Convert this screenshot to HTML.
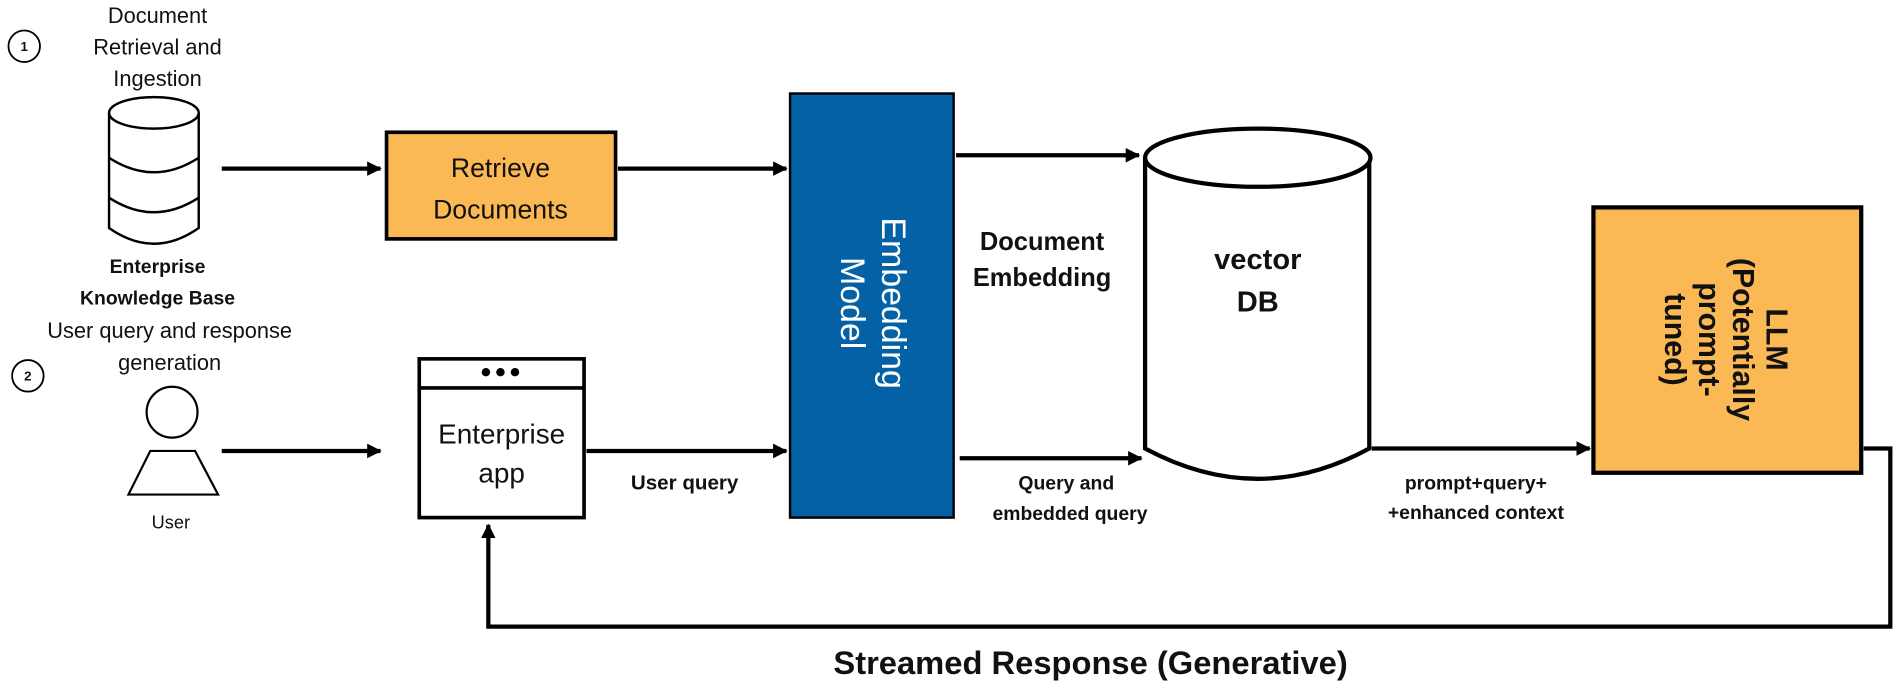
<!DOCTYPE html>
<html><head><meta charset="utf-8"><style>
html,body{margin:0;padding:0;background:#fff;}
svg{display:block;}
text{font-family:"Liberation Sans",sans-serif;fill:#111;}
.b{font-weight:bold;}
</style></head><body>
<svg width="1900" height="685" viewBox="0 0 1568 565" xmlns="http://www.w3.org/2000/svg">
<defs>
<marker id="ah" markerWidth="14" markerHeight="14" refX="11" refY="7" orient="auto" markerUnits="userSpaceOnUse">
<path d="M0,1 L12,7 L0,13 z" fill="#000"/>
</marker>
</defs>
<g fill="none" stroke="#000" stroke-width="1.5">
<circle cx="20" cy="38" r="13"/>
<circle cx="23" cy="310" r="13"/>
</g>
<text x="20" y="42" font-size="11" text-anchor="middle" class="b">1</text>
<text x="23" y="314" font-size="11" text-anchor="middle" class="b">2</text>
<g font-size="18" text-anchor="middle">
<text x="130" y="19">Document</text>
<text x="130" y="45">Retrieval and</text>
<text x="130" y="71">Ingestion</text>
<text x="140" y="279">User query and response</text>
<text x="140" y="305">generation</text>
</g>
<g font-size="16" text-anchor="middle" class="b">
<text x="130" y="225">Enterprise</text>
<text x="130" y="251">Knowledge Base</text>
</g>
<text x="141" y="436" font-size="15" text-anchor="middle">User</text>
<!-- KB cylinder -->
<g fill="none" stroke="#000" stroke-width="2">
<ellipse cx="127" cy="93" rx="37" ry="13"/>
<path d="M90,93 V188 Q127,214 164,188 V93"/>
<path d="M90,130 Q127,154 164,130"/>
<path d="M90,163 Q127,187 164,163"/>
</g>
<!-- user -->
<g fill="none" stroke="#000" stroke-width="1.8">
<circle cx="142" cy="340" r="21"/>
<path d="M124,372 H161 L180,408 H106 Z"/>
</g>
<!-- arrows -->
<g stroke="#000" stroke-width="3.5" fill="none" marker-end="url(#ah)">
<line x1="183" y1="139" x2="314" y2="139"/>
<line x1="510" y1="139" x2="649" y2="139"/>
<line x1="183" y1="372" x2="314" y2="372"/>
<line x1="484" y1="372" x2="649" y2="372"/>
<line x1="789" y1="128" x2="940" y2="128"/>
<line x1="792" y1="378" x2="942" y2="378"/>
<line x1="1132" y1="370" x2="1312" y2="370"/>
<polyline points="1538,370 1560,370 1560,517 403,517 403,433"/>
</g>
<!-- retrieve docs -->
<rect x="319" y="109" width="189" height="88" fill="#fbb955" stroke="#000" stroke-width="3"/>
<text x="413" y="146" font-size="22" text-anchor="middle">Retrieve</text>
<text x="413" y="180" font-size="22" text-anchor="middle">Documents</text>
<!-- enterprise app -->
<rect x="346" y="296" width="136" height="131" fill="#fff" stroke="#000" stroke-width="3"/>
<line x1="346" y1="320" x2="482" y2="320" stroke="#000" stroke-width="3"/>
<circle cx="401" cy="307" r="3.5"/><circle cx="413" cy="307" r="3.5"/><circle cx="425" cy="307" r="3.5"/>
<text x="414" y="366" font-size="23" text-anchor="middle">Enterprise</text>
<text x="414" y="398" font-size="23" text-anchor="middle">app</text>
<text x="565" y="404" font-size="17" text-anchor="middle" class="b">User query</text>
<!-- embedding model -->
<rect x="652" y="77" width="135" height="350" fill="#0561a5" stroke="#000" stroke-width="2"/>
<g transform="translate(720,250) rotate(90)">
<text x="0" y="-8" font-size="28" text-anchor="middle" style="fill:#fff">Embedding</text>
<text x="0" y="26" font-size="28" text-anchor="middle" style="fill:#fff">Model</text>
</g>
<g font-size="21" text-anchor="middle" class="b">
<text x="860" y="206">Document</text>
<text x="860" y="236">Embedding</text>
</g>
<g font-size="16" text-anchor="middle" class="b">
<text x="880" y="404">Query and</text>
<text x="883" y="429">embedded query</text>
<text x="1218" y="404">prompt+query+</text>
<text x="1218" y="428">+enhanced context</text>
</g>
<!-- vector DB -->
<g fill="#fff" stroke="#000" stroke-width="3.5">
<path d="M945,130 V370 Q1038,420 1130,370 V130"/>
<ellipse cx="1038" cy="130" rx="93" ry="24"/>
</g>
<text x="1038" y="222" font-size="24" text-anchor="middle" class="b">vector</text>
<text x="1038" y="257" font-size="24" text-anchor="middle" class="b">DB</text>
<!-- LLM -->
<rect x="1315" y="171" width="221" height="219" fill="#fbb955" stroke="#000" stroke-width="3.5"/>
<g transform="translate(1425,280) rotate(90)" font-size="25" class="b" text-anchor="middle">
<text x="0" y="-33">LLM</text>
<text x="0" y="-5">(Potentially</text>
<text x="0" y="23">prompt-</text>
<text x="0" y="51">tuned)</text>
</g>
<text x="900" y="556" font-size="27" text-anchor="middle" class="b">Streamed Response (Generative)</text>
</svg>
</body></html>
